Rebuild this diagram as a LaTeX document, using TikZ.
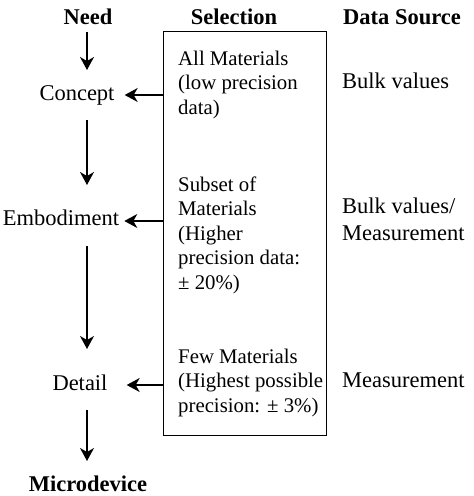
\documentclass[tikz,border=0pt]{standalone}
\usepackage{fontspec}
\setmainfont{Liberation Serif}
\usetikzlibrary{arrows.meta}
\begin{document}
\begin{tikzpicture}[x=1pt,y=-1pt,
  lbl/.style={inner sep=0pt,font=\fontsize{22.5pt}{27pt}\selectfont},
  hdr/.style={lbl,font=\fontsize{22.5pt}{27pt}\selectfont\bfseries},
  boxtxt/.style={inner sep=0pt,align=left,anchor=base west,font=\fontsize{20.8pt}{24.5pt}\selectfont},
  srctxt/.style={inner sep=0pt,align=left,anchor=base west,font=\fontsize{22.5pt}{27pt}\selectfont},
  arr/.style={line width=1.4pt,-{Stealth[length=13pt,width=14pt,inset=4pt]}},
  frame/.style={draw,line width=1.2pt,inner sep=0pt,anchor=north west,minimum width=163pt,minimum height=404pt}]
\useasboundingbox (0,0) rectangle (474,496);
% headers
\node[hdr,anchor=base] (need) at (88,24) {Need};
\node[hdr,anchor=base] (sel) at (234,24) {Selection};
\node[hdr,anchor=base] (src) at (402,24) {Data Source};
% left column
\node[lbl,anchor=base] (concept) at (77,100) {Concept};
\node[lbl,anchor=base] (embod) at (61,225) {Embodiment};
\node[lbl,anchor=base] (detail) at (80,390) {Detail};
\node[hdr,anchor=base] (micro) at (88,491) {Microdevice};
% selection box
\node[frame] (box) at (163,31) {};
% (multi-line nodes: base = baseline of last line)
\node[boxtxt] (t1) at (178,114) {All Materials\\(low precision\\data)};
\node[boxtxt] (t2) at (178,289) {Subset of\\Materials\\(Higher\\precision data:\\± 20\%)};
\node[boxtxt] (t3) at (178,412) {Few Materials\\(Highest possible\\precision: ± 3\%)};
% data sources
\node[srctxt] (s1) at (342,88) {Bulk values};
\node[srctxt] (s2) at (342,240) {Bulk values/\\Measurement};
\node[srctxt] (s3) at (342,387) {Measurement};
% vertical arrows
\draw[arr] ([xshift=-1pt,yshift=-8pt]need.base) -- ([xshift=-1pt]need.base |- 0,70);
\draw[arr] ([xshift=-1pt]need.base |- 0,120) -- ([xshift=-1pt]need.base |- 0,185);
\draw[arr] ([xshift=-1pt]need.base |- 0,246) -- ([xshift=-1pt]need.base |- 0,349);
\draw[arr] ([xshift=-1pt]need.base |- 0,410) -- ([xshift=-1pt]need.base |- 0,461);
% horizontal arrows
\draw[arr] ([yshift=5pt]concept.base -| box.west) -- ([xshift=10pt,yshift=5pt]concept.base east);
\draw[arr] ([yshift=4pt]embod.base -| box.west) -- ([xshift=5pt,yshift=4pt]embod.base east);
\draw[arr] ([yshift=5pt]detail.base -| box.west) -- ([xshift=19pt,yshift=5pt]detail.base east);
\end{tikzpicture}
\end{document}
